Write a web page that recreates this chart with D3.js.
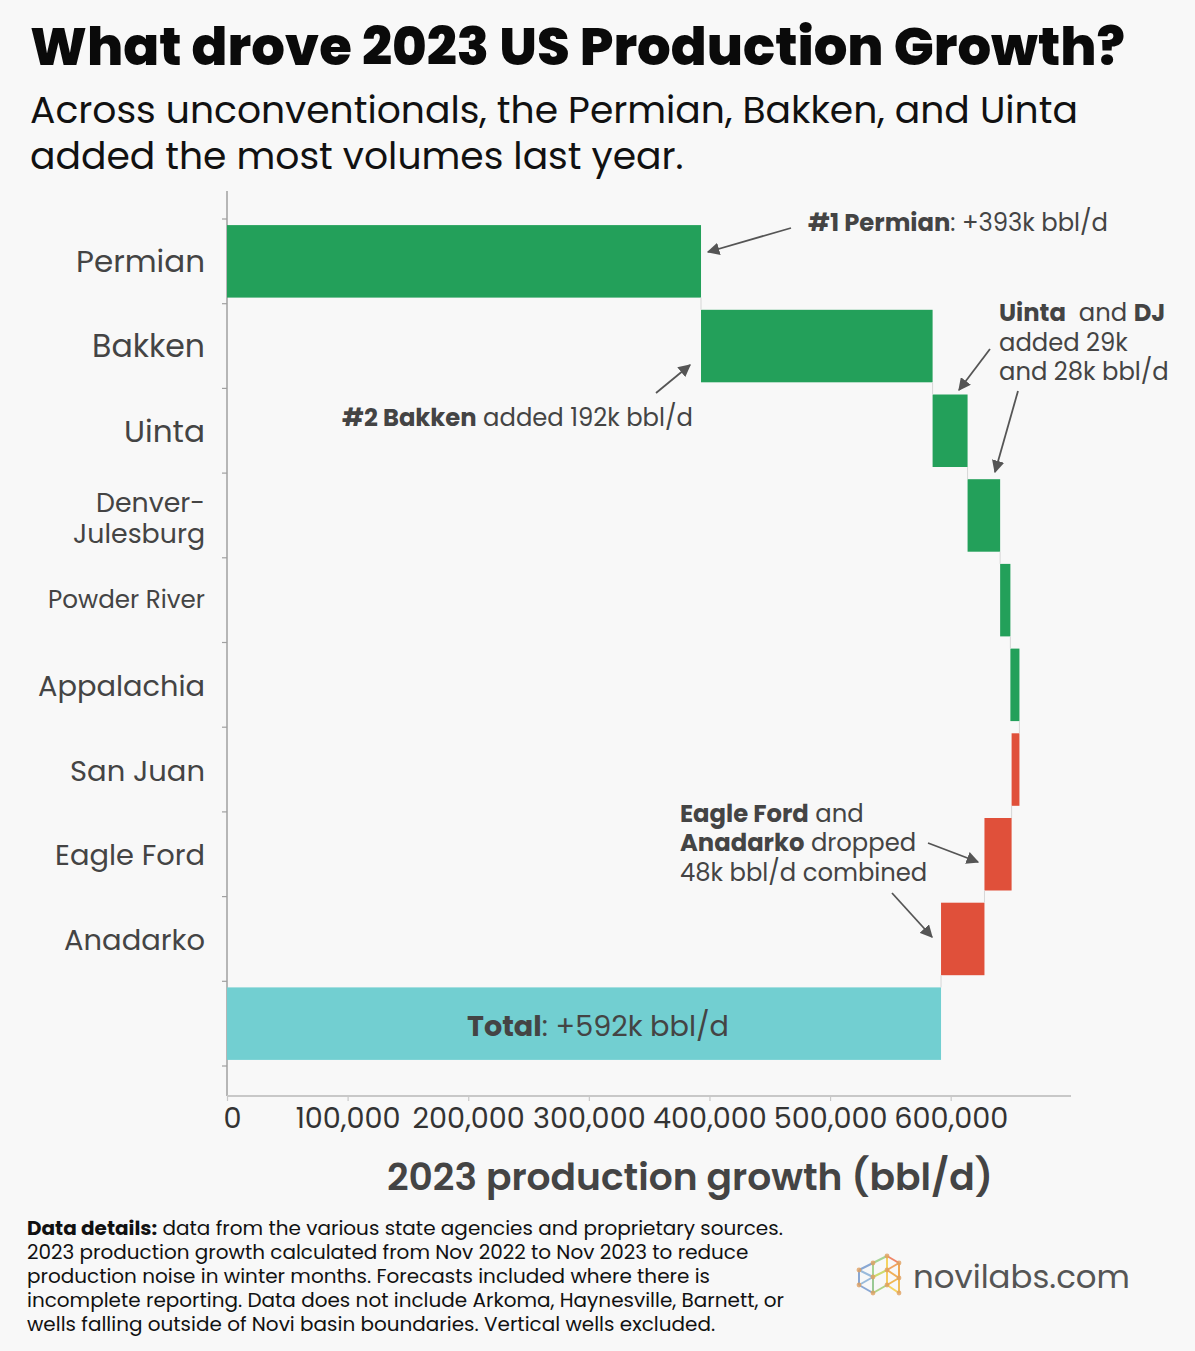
<!DOCTYPE html>
<html><head><meta charset="utf-8">
<script src="https://cdn.jsdelivr.net/npm/d3@7"></script>
<style>
html,body{margin:0;padding:0;background:#f8f8f8;}
svg{display:block;}
text{font-family:"Poppins","Inter","Noto Sans",sans-serif;}
</style></head>
<body>
<svg id="chart" width="1195" height="1351"></svg>
<script>
// ---------- data ----------
const categories = ["Permian","Bakken","Uinta","Denver-Julesburg","Powder River","Appalachia","San Juan","Eagle Ford","Anadarko"];
const changes = [393000,192000,29000,27000,8500,7500,-6500,-22500,-36000];
const totalName = "Total";
const totalValue = 592000;
const xTicks = [0,100000,200000,300000,400000,500000,600000];
const xDomain = [0,700000];

// ---------- setup ----------
const svg = d3.select("#chart");
svg.append("rect").attr("width",1195).attr("height",1351).attr("fill","#f8f8f8");

function fit(sel, target){
  const node = sel.node();
  const w = node.getComputedTextLength();
  const fs = parseFloat(sel.attr("font-size"));
  sel.attr("font-size", (fs*target/w).toFixed(2));
  return fs*target/w;
}

const x = d3.scaleLinear().domain(xDomain).range([227,1071.3]);
const allCats = categories.concat([totalName]);
const y = d3.scaleBand().domain(allCats).range([219,1066]).paddingInner(0.144).paddingOuter(0.072);

// waterfall rows
let cum = 0;
const rows = categories.map((c,i)=>{
  const start = cum; cum += changes[i];
  return {cat:c, start, end:cum, value:changes[i], type: changes[i]>=0?"pos":"neg"};
});
rows.push({cat:totalName, start:0, end:totalValue, value:totalValue, type:"total"});
const colors = {pos:"#23a05a", neg:"#e0503a", total:"#72cfd1"};

// ---------- axes ----------
const g = svg.append("g");
g.append("line").attr("x1",227).attr("x2",227).attr("y1",191).attr("y2",1096)
  .attr("stroke","#a0a0a0").attr("stroke-width",1.5);
const step = y.step();
d3.range(allCats.length+1).forEach(i=>{
  const yy = y.range()[0] + i*step;
  g.append("line").attr("x1",222).attr("x2",227).attr("y1",yy).attr("y2",yy)
    .attr("stroke","#a0a0a0").attr("stroke-width",1.2);
});

const xAxis = d3.axisBottom(x).tickValues(xTicks).tickFormat(d3.format(",")).tickSize(5).tickSizeOuter(0);
const xg = svg.append("g").attr("transform","translate(0,1096)").call(xAxis);
xg.select(".domain").attr("stroke","#c8c8c8").attr("stroke-width",2.2).attr("d","M227,0H1071");
xg.selectAll(".tick line").attr("stroke","#c8c8c8").attr("stroke-width",1.2);
xg.selectAll(".tick text").attr("fill","#333").attr("font-size",26).attr("dy","0").attr("y",32)
  .attr("font-family","Poppins, Inter, sans-serif");
xg.selectAll(".tick text").filter(d=>d===0).attr("dx",5);
{
  const t = xg.selectAll(".tick text").filter(d=>d===100000);
  const fs = fit(t,105);
  xg.selectAll(".tick text").attr("font-size",fs.toFixed(2));
}

// ---------- bars ----------
svg.append("g").selectAll("rect").data(rows).join("rect")
  .attr("x",d=>x(Math.min(d.start,d.end)))
  .attr("width",d=>Math.abs(x(d.end)-x(d.start)))
  .attr("y",d=>y(d.cat))
  .attr("height",y.bandwidth())
  .attr("fill",d=>colors[d.type]);

const conn = svg.append("g");
rows.slice(0,-1).forEach((d,i)=>{
  const next = rows[i+1];
  conn.append("line")
    .attr("x1",x(d.end)).attr("x2",x(d.end))
    .attr("y1",y(d.cat)+y.bandwidth()).attr("y2",y(next.cat))
    .attr("stroke","#d6d6d6").attr("stroke-width",1);
});

// ---------- y labels ----------
const labelWidths = {"Permian":129,"Bakken":113,"Uinta":81,"Denver-":109,"Julesburg":132,
  "Powder River":157,"Appalachia":167,"San Juan":135,"Eagle Ford":150,"Anadarko":141};
const yl = svg.append("g");
function ylab(txt, yy, fs){
  const t = yl.append("text").attr("x",205).attr("y",yy).attr("text-anchor","end").attr("fill","#444")
    .attr("font-size",fs).text(txt);
  fit(t, labelWidths[txt]);
}
categories.forEach(c=>{
  const cy = y(c)+y.bandwidth()/2;
  if(c==="Denver-Julesburg"){
    ylab("Denver-", cy-3, 26);
    ylab("Julesburg", cy+28, 26);
  } else if(c==="Powder River"){
    ylab(c, cy+8, 24);
  } else {
    ylab(c, cy+11, 29);
  }
});

// ---------- titles ----------
const title = svg.append("text").attr("x",30).attr("y",65).attr("font-size",50).attr("font-weight",800)
  .attr("fill","#0a0a0a").text("What drove 2023 US Production Growth?");
fit(title,1095);
const sub1 = svg.append("text").attr("x",30).attr("y",123).attr("font-size",36).attr("fill","#111")
  .text("Across unconventionals, the Permian, Bakken, and Uinta");
const sfs = fit(sub1,1048);
svg.append("text").attr("x",30).attr("y",169).attr("font-size",sfs.toFixed(2)).attr("fill","#111")
  .text("added the most volumes last year.");

const at = svg.append("text").attr("x",690).attr("y",1190).attr("text-anchor","middle").attr("font-size",38)
  .attr("font-weight",600).attr("fill","#444").text("2023 production growth (bbl/d)");
fit(at,606);

// ---------- annotations ----------
const defs = svg.append("defs");
defs.append("marker").attr("id","ah").attr("viewBox","0 0 10 10").attr("refX",9).attr("refY",5)
  .attr("markerWidth",7).attr("markerHeight",7).attr("orient","auto-start-reverse").attr("markerUnits","strokeWidth")
  .append("path").attr("d","M0,0L10,5L0,10z").attr("fill","#555");
function arrow(x1,y1,x2,y2){
  svg.append("line").attr("x1",x1).attr("y1",y1).attr("x2",x2).attr("y2",y2)
    .attr("stroke","#555").attr("stroke-width",1.8).attr("marker-end","url(#ah)");
}
function richText(xp,yp,parts,fs,anchor){
  const t = svg.append("text").attr("x",xp).attr("y",yp).attr("font-size",fs).attr("fill","#444")
    .attr("text-anchor",anchor||"start");
  parts.forEach(p=>t.append("tspan").attr("font-weight",p[1]?700:400).text(p[0]));
  return t;
}
const annFS = 24;
const a1 = richText(808,231,[["#1 Permian",1],[": +393k bbl/d",0]],annFS);
const afs = fit(a1,300);
arrow(791,228,708,252);
richText(999,321,[["Uinta",1],["\u00a0 and ",0],["DJ",1]],afs);
richText(999,351,[["added 29k",0]],afs);
richText(999,380,[["and 28k bbl/d",0]],afs);
arrow(990,349,959,390);
arrow(1018,391,995,472);
richText(342,426,[["#2 Bakken",1],[" added 192k bbl/d",0]],afs);
arrow(656,393,690,365);
richText(680,822,[["Eagle Ford",1],[" and",0]],afs);
richText(680,851,[["Anadarko",1],[" dropped",0]],afs);
richText(680,881,[["48k bbl/d combined",0]],afs);
arrow(928,843,978,862);
arrow(892,893,932,937);
const tl = richText(598,1036,[["Total",1],[": +592k bbl/d",0]],28,"middle");
fit(tl,262);

// ---------- footnote ----------
const fnLines = [
  [["Data details:",1],[" data from the various state agencies and proprietary sources.",0]],
  [["2023 production growth calculated from Nov 2022 to Nov 2023 to reduce",0]],
  [["production noise in winter months. Forecasts included where there is",0]],
  [["incomplete reporting. Data does not include Arkoma, Haynesville, Barnett, or",0]],
  [["wells falling outside of Novi basin boundaries. Vertical wells excluded.",0]]
];
let fnFS = 19;
fnLines.forEach((ln,i)=>{
  const t = svg.append("text").attr("x",27).attr("y",1235+i*24).attr("font-size",fnFS).attr("fill","#111");
  ln.forEach(p=>t.append("tspan").attr("font-weight",p[1]?700:400).text(p[0]));
  if(i===0){ fnFS = fit(t,756); }
});

// ---------- logo ----------
const logo = svg.append("text").attr("x",913).attr("y",1288).attr("font-size",34).attr("fill","#555")
  .attr("font-family","'DejaVu Sans', Verdana, sans-serif").text("novilabs.com");
fit(logo,217);
const N = {a:[859,1270],b:[873,1263],c:[887,1256],d:[899,1263],e:[899,1278],f:[899,1293],
           g:[887,1285],h:[873,1293],i:[859,1285],j:[873,1277],k:[887,1270]};
const edges = [["a","b","#7e9fd0"],["b","c","#9fd08a"],["c","d","#ef7a5a"],["d","e","#f0a040"],["e","f","#f0b848"],
  ["f","g","#f5d050"],["g","h","#a8cf7a"],["h","i","#7e9fd0"],["i","a","#7e9fd0"],["a","j","#8fb4d8"],
  ["j","b","#9fd08a"],["j","h","#8fc48a"],["j","k","#c8d860"],["k","c","#f5d050"],["k","d","#f09a50"],
  ["k","g","#f5c850"],["j","i","#8fb4d8"],["g","e","#f0b040"],["k","e","#f0a848"]];
const lg = svg.append("g");
edges.forEach(e=>{
  lg.append("line").attr("x1",N[e[0]][0]).attr("y1",N[e[0]][1]).attr("x2",N[e[1]][0]).attr("y2",N[e[1]][1])
    .attr("stroke",e[2]).attr("stroke-width",2).attr("opacity",0.9);
});
Object.values(N).forEach(p=>lg.append("circle").attr("cx",p[0]).attr("cy",p[1]).attr("r",2.4).attr("fill","#e0a060").attr("opacity",0.8));
</script>
</body></html>
